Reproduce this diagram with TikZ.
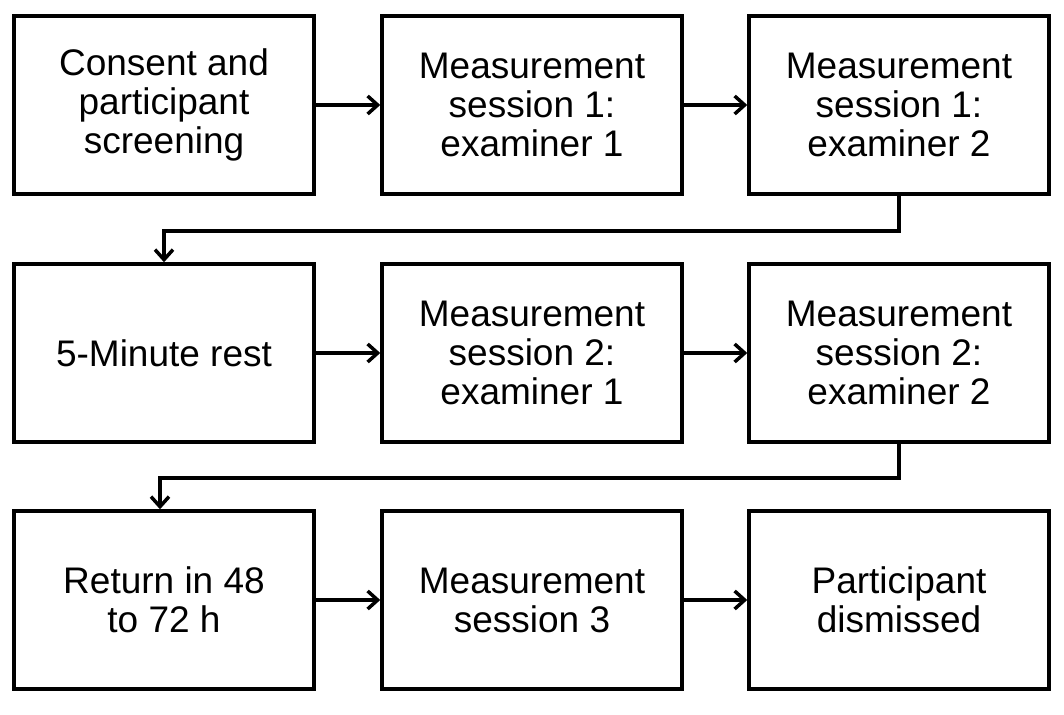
\documentclass[tikz,border=0pt]{standalone}
\usepackage{fontspec}
\setmainfont{Liberation Sans}
\usetikzlibrary{arrows.meta}
\begin{document}
\begin{tikzpicture}[x=1pt,y=-1pt,
 box/.style={draw,line width=3.5pt,minimum width=300pt,minimum height=178pt,align=center,font=\fontsize{37}{39}\selectfont,inner sep=0pt},
 arr/.style={line width=3.5pt,-{Straight Barb[length=10pt,width=18pt,line width=3.5pt]}}]
\useasboundingbox (0,0) rectangle (1064,714);
\node[box] (a) at (164,105) {Consent and\\participant\\screening};
\node[box] (b) at (532,105) {Measurement\\session 1:\\examiner 1};
\node[box] (c) at (899,105) {Measurement\\session 1:\\examiner 2};
\node[box] (d) at (164,353) {5-Minute rest};
\node[box] (e) at (532,353) {Measurement\\session 2:\\examiner 1};
\node[box] (f) at (899,353) {Measurement\\session 2:\\examiner 2};
\node[box] (g) at (164,600) {Return in 48\\to 72 h};
\node[box] (h) at (532,600) {Measurement\\session 3};
\node[box] (i) at (899,600) {Participant\\dismissed};
\draw[arr] (a) -- (b); \draw[arr] (b) -- (c);
\draw[arr] (d) -- (e); \draw[arr] (e) -- (f);
\draw[arr] (g) -- (h); \draw[arr] (h) -- (i);
\draw[arr] (c.south) -- ++(0,35) -| (d.north);
\draw[arr] (f.south) -- ++(0,34) -| ([xshift=-4pt]g.north);
\end{tikzpicture}
\end{document}
